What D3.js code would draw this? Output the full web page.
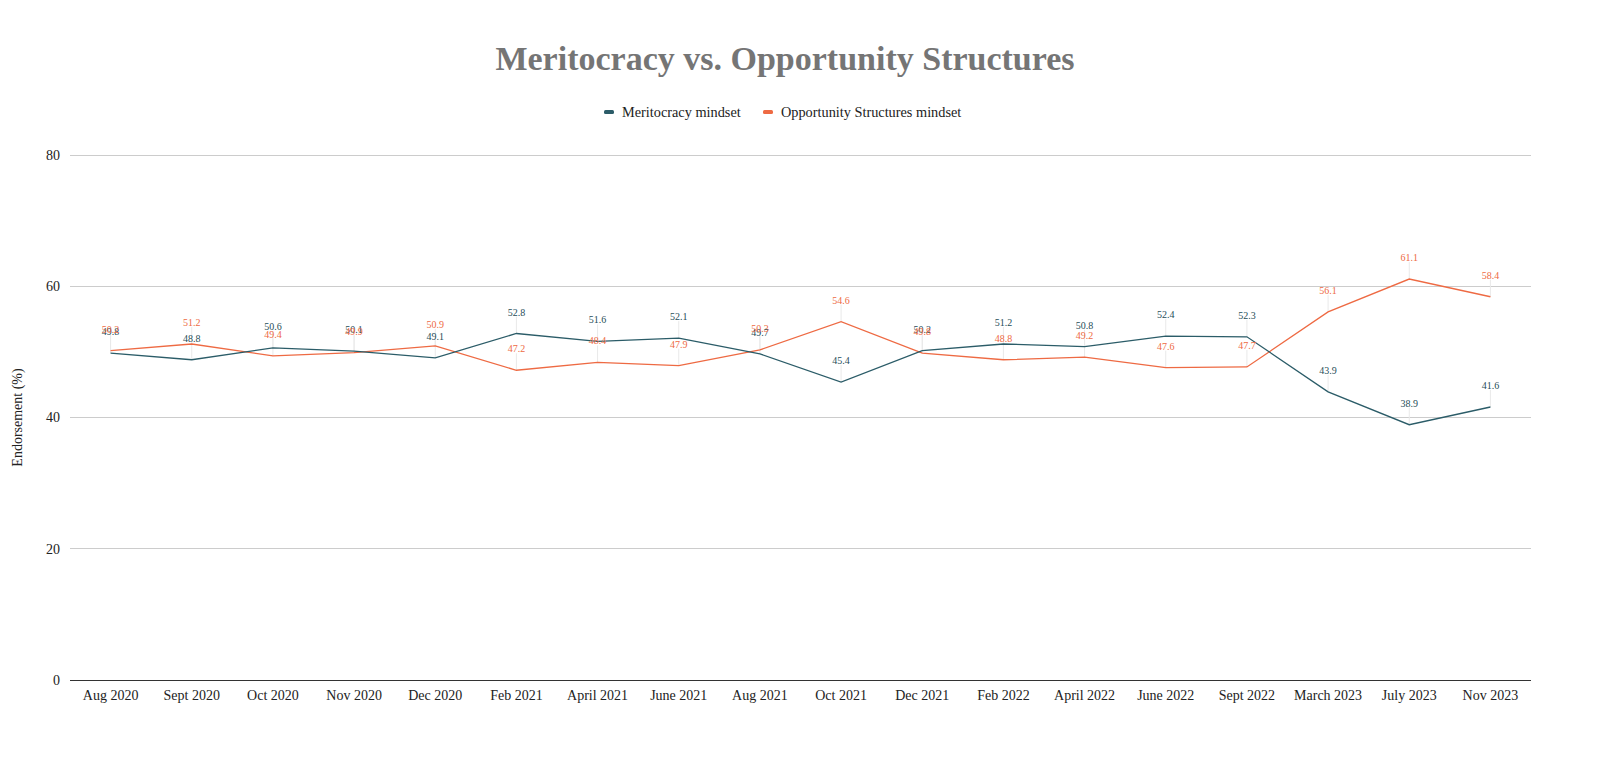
<!DOCTYPE html>
<html><head><meta charset="utf-8">
<script src="https://cdn.jsdelivr.net/npm/d3@7/dist/d3.min.js"></script>
<style>body{margin:0;background:#fff}svg{display:block}</style>
</head><body>
<svg id="c" width="1600" height="759"></svg>
<script>
const categories = ["Aug 2020","Sept 2020","Oct 2020","Nov 2020","Dec 2020","Feb 2021","April 2021","June 2021","Aug 2021","Oct 2021","Dec 2021","Feb 2022","April 2022","June 2022","Sept 2022","March 2023","July 2023","Nov 2023"];
const meritocracy = [49.8,48.8,50.6,50.1,49.1,52.8,51.6,52.1,49.7,45.4,50.2,51.2,50.8,52.4,52.3,43.9,38.9,41.6];
const opportunity = [50.2,51.2,49.4,49.9,50.9,47.2,48.4,47.9,50.3,54.6,49.8,48.8,49.2,47.6,47.7,56.1,61.1,58.4];
const yTicks = [0,20,40,60,80];
const seriesNames = ["Meritocracy mindset","Opportunity Structures mindset"];
const colors = ["#2b5c68","#ee6a43"];

const font = "'Liberation Serif','Times New Roman',serif";
const svg = d3.select("#c");
const L = 70, R = 1531, T = 155, B = 680;
const x = d3.scaleBand().domain(categories).range([L, R]);
const y = d3.scaleLinear().domain([0, 80]).range([B, T]);
const cx = c => x(c) + x.bandwidth() / 2;

// title
svg.append("text").attr("x", 785).attr("y", 70).attr("text-anchor", "middle")
  .attr("font-family", font).attr("font-weight", "bold").attr("font-size", 34)
  .attr("fill", "#757575").text("Meritocracy vs. Opportunity Structures");

// legend
const lg = svg.append("g").attr("font-family", font).attr("font-size", 14.3);
const legX = [604, 763];
seriesNames.forEach((n, i) => {
  lg.append("rect").attr("x", legX[i]).attr("y", 110).attr("width", 10).attr("height", 4).attr("rx", 1.5).attr("fill", colors[i]);
  lg.append("text").attr("x", legX[i] + 18).attr("y", 117).attr("fill", "#222").text(n);
});

// grid
const grid = svg.append("g");
yTicks.forEach(t => {
  grid.append("line").attr("x1", L).attr("x2", R).attr("y1", y(t)).attr("y2", y(t))
    .attr("stroke", t === 0 ? "#333" : "#cccccc").attr("stroke-width", 1).attr("shape-rendering", "crispEdges");
});

// y axis
const yAxis = svg.append("g").attr("transform", `translate(${L},0)`)
  .call(d3.axisLeft(y).tickValues(yTicks).tickSize(0).tickPadding(10));
yAxis.select(".domain").remove();
yAxis.selectAll("text").attr("font-family", font).attr("font-size", 14).attr("fill", "#222");

svg.append("text").attr("transform", `translate(22,${(T + B) / 2}) rotate(-90)`)
  .attr("text-anchor", "middle").attr("font-family", font).attr("font-size", 14).attr("fill", "#222")
  .text("Endorsement (%)");

// x axis
const xAxis = svg.append("g").attr("transform", `translate(0,${B})`)
  .call(d3.axisBottom(x).tickSize(0).tickPadding(10));
xAxis.select(".domain").remove();
xAxis.selectAll("text").attr("font-family", font).attr("font-size", 14).attr("fill", "#222");

const data = [meritocracy, opportunity];
const line = d3.line().x((d, i) => cx(categories[i])).y(d => y(d));

// leader lines
data.forEach((vals, s) => {
  svg.append("g").selectAll("line").data(vals).join("line")
    .attr("x1", (d, i) => cx(categories[i])).attr("x2", (d, i) => cx(categories[i]))
    .attr("y1", d => y(d)).attr("y2", d => y(d) - 17)
    .attr("stroke", "#e9e9e9").attr("stroke-width", 1);
});

// lines
[1, 0].forEach(s => {
  svg.append("path").datum(data[s]).attr("d", line).attr("fill", "none")
    .attr("stroke", colors[s]).attr("stroke-width", 1.3);
});

// labels
data.forEach((vals, s) => {
  svg.append("g").selectAll("text").data(vals).join("text")
    .attr("x", (d, i) => cx(categories[i])).attr("y", d => y(d) - 18)
    .attr("text-anchor", "middle").attr("font-family", font).attr("font-size", 10)
    .attr("fill", s === 0 ? "#1f4d58" : colors[s]).text(d => d.toFixed(1));
});
</script>
</body></html>
